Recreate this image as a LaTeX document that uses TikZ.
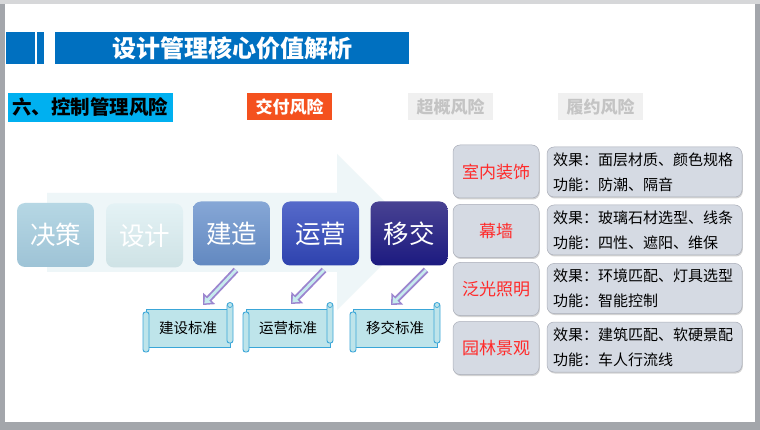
\documentclass[tikz,border=0pt]{standalone}
\usepackage{fontspec}
\setmainfont{Noto Sans CJK SC}
\usetikzlibrary{positioning}
\usetikzlibrary{arrows.meta}
\usetikzlibrary{shadows}
\tikzset{>=stealth}

\definecolor{framegray}{HTML}{A3A6AB}
\definecolor{titleblue}{HTML}{0070C0}
\definecolor{headcyan}{HTML}{00B0F0}
\definecolor{riskred}{HTML}{F4511E}
\definecolor{riskoff}{HTML}{F0F0F0}
\definecolor{riskofftext}{HTML}{C4C4C4}
\definecolor{bigarrow}{HTML}{EEF6F8}
\definecolor{scrollfill}{HTML}{BEE4EA}
\definecolor{scrollline}{HTML}{3AA6D8}
\definecolor{glow}{HTML}{8A70C6}
\definecolor{glowin}{HTML}{C6EBEE}
\definecolor{itemgray}{HTML}{D5DAE3}
\definecolor{itemline}{HTML}{A9ADB8}
\definecolor{itemred}{HTML}{FF2A2A}

\tikzset{
  stagebox/.style={rounded corners=8pt, minimum width=77pt, minimum height=64pt,
    text=white, font=\fontsize{25.5}{25.5}\selectfont},
  riskbox/.style={minimum height=27pt, minimum width=85pt, font=\bfseries\fontsize{17}{17}\selectfont},
  stdscroll/.style={fill=scrollfill, draw=scrollline, line width=0.9pt,
    minimum width=84pt, minimum height=38pt, font=\fontsize{14.5}{14.5}\selectfont},
  scrollroll/.style={fill=scrollfill, draw=scrollline, line width=0.9pt, rounded corners=2.5pt},
  itembox/.style={fill=itemgray, draw=itemline, line width=0.5pt, rounded corners=7pt,
    drop shadow={shadow xshift=0.8pt, shadow yshift=-1.5pt, opacity=0.35},
    minimum width=86pt, minimum height=53pt, text=itemred, font=\fontsize{17}{17}\selectfont},
  detailbox/.style={fill=itemgray, draw=itemline, line width=0.5pt, rounded corners=7pt,
    drop shadow={shadow xshift=0.8pt, shadow yshift=-1.5pt, opacity=0.35},
    minimum width=195pt, minimum height=50pt, text width=183pt, align=left,
    font=\fontsize{15}{25}\selectfont},
  glowline/.style={line width=6.5pt, draw=glow!85, -{Triangle[length=9pt,width=16pt]}},
  innerline/.style={line width=2.8pt, draw=glowin, -{Triangle[length=5.5pt,width=8.5pt]}, shorten >=2pt}
}

\begin{document}
\begin{tikzpicture}[x=1pt, y=-1pt, inner sep=0pt, outer sep=0pt]
% slide frame
\fill[framegray] (0,0) rectangle (760,430);
\fill[framegray!45] (0,0) rectangle (760,4);
\fill[white] (5,4) rectangle (755,422);
\useasboundingbox (0,0) rectangle (760,430);

% title bar
\fill[titleblue] (6,32) rectangle (35,64);
\fill[titleblue] (37,32) rectangle (44,64);
\node[fill=titleblue, minimum width=354pt, minimum height=32pt, text=white,
  font=\bfseries\fontsize{24}{24}\selectfont] (title) at (232,48) {设计管理核心价值解析};

% risk headings
\node[fill=headcyan, minimum width=165pt, minimum height=29pt,
  font=\bfseries\fontsize{19.5}{19.5}\selectfont] (head) at (90.5,107.5) {六、控制管理风险};
\node[riskbox, fill=riskred, text=white] (risk1) at (289.5,106.5) {交付风险};
\node[riskbox, fill=riskoff, text=riskofftext] (risk2) at (450.5,106.5) {超概风险};
\node[riskbox, fill=riskoff, text=riskofftext] (risk3) at (600.5,106.5) {履约风险};

% big background arrow
\fill[bigarrow] (47,193) -- (337,193) -- (337,154) -- (415,232) -- (337,310) -- (337,272) -- (47,272) -- cycle;

% stages
\node[stagebox, top color={rgb,255:red,182;green,215;blue,228}, bottom color={rgb,255:red,158;green,195;blue,214}] (decide) at (55.5,235) {决策};
\node[stagebox, top color={rgb,255:red,228;green,242;blue,245}, bottom color={rgb,255:red,206;green,226;blue,229}] (design) at (144.5,235.5) {设计};
\node[stagebox, top color={rgb,255:red,134;green,167;blue,214}, bottom color={rgb,255:red,98;green,136;blue,192}] (build) at (231.5,233.5) {建造};
\node[stagebox, top color={rgb,255:red,86;green,106;blue,202}, bottom color={rgb,255:red,46;green,66;blue,174}] (operate) at (320.5,233.5) {运营};
\node[stagebox, top color={rgb,255:red,72;green,66;blue,146}, bottom color={rgb,255:red,28;green,26;blue,128}] (handover) at (409,233.5) {移交};

% standards
\node[stdscroll] (std1) at (188,328) {建设标准};
\node[stdscroll] (std2) at (288,328) {运营标准};
\node[stdscroll] (std3) at (395,328) {移交标准};
\foreach \s in {std1,std2,std3} {
  \draw[scrollroll] ([xshift=-3pt,yshift=6pt]\s.north east) rectangle ([xshift=3pt,yshift=4pt]\s.south east);
  \draw[scrollroll] ([xshift=-3pt,yshift=-3pt]\s.north west) rectangle ([xshift=3pt,yshift=-5pt]\s.south west);
  \filldraw[fill=scrollfill, draw=scrollline, line width=0.7pt] ([yshift=4pt]\s.north east) circle (2.5pt);
}

% pointers
\coordinate (p1) at (236,270);
\coordinate (q1) at (203,305);
\coordinate (p2) at (324,270);
\coordinate (q2) at (291,304);
\coordinate (p3) at (426,270);
\coordinate (q3) at (391,305);
\foreach \i in {1,2,3} {
  \draw[glowline] (p\i) -- (q\i);
  \draw[innerline] (p\i) -- (q\i);
}

% right side items
\node[itembox] (item1) at (496,171.5) {室内装饰};
\node[itembox] (item2) at (496,231) {幕墙};
\node[itembox] (item3) at (496,289) {泛光照明};
\node[itembox] (item4) at (496,348) {园林景观};

\node[detailbox] (det1) at (644.5,172) {效果：面层材质、颜色规格\\功能：防潮、隔音};
\node[detailbox] (det2) at (644.5,230) {效果：玻璃石材选型、线条\\功能：四性、遮阳、维保};
\node[detailbox] (det3) at (644.5,288.5) {效果：环境匹配、灯具选型\\功能：智能控制};
\node[detailbox] (det4) at (644.5,347) {效果：建筑匹配、软硬景配\\功能：车人行流线};
\end{tikzpicture}
\end{document}
